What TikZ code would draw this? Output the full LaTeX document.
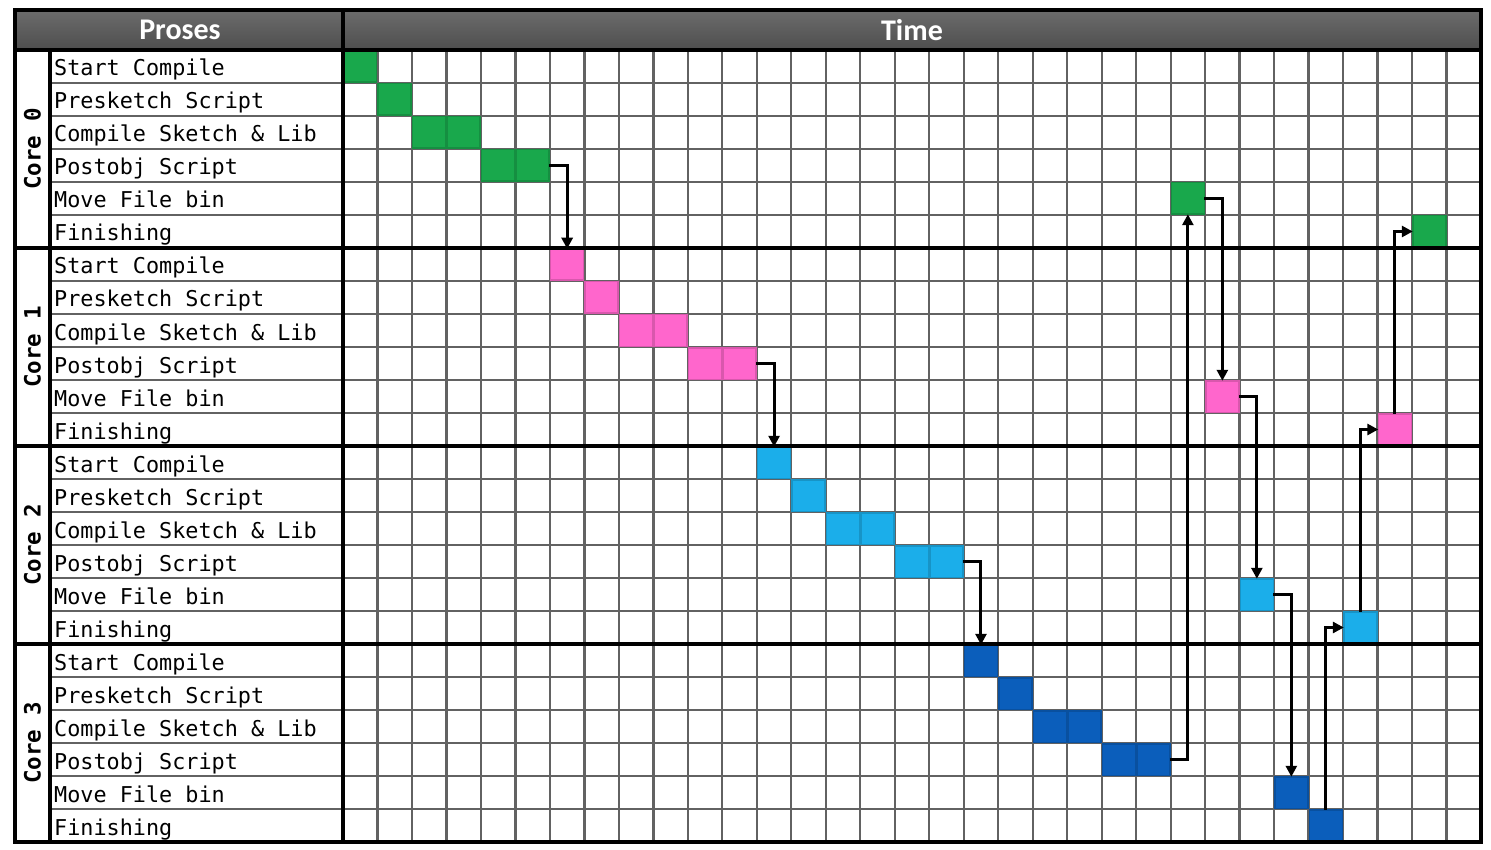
\documentclass[tikz,border=0pt]{standalone}
\usepackage{fontspec}
\newfontfamily\monof{DejaVu Sans Mono}
\newfontfamily\headf{Carlito}
\usetikzlibrary{arrows.meta}
\definecolor{gridgray}{HTML}{626262}
\definecolor{hdtop}{HTML}{6C6C6C}
\definecolor{hdbot}{HTML}{4E4E4E}
\definecolor{cgreen}{HTML}{19A84C}
\definecolor{cpink}{HTML}{FF66CC}
\definecolor{clblue}{HTML}{1BAEEA}
\definecolor{cdblue}{HTML}{0B5EBB}
\tikzset{
  gridline/.style={draw=gridgray, line width=2.3pt},
  thickline/.style={draw=black, line width=4.2pt},
  taskcell/.style={fill=#1, draw=#1!85!black, line width=1.5pt,
    minimum width=33pt, minimum height=31.5pt, inner sep=0pt, outer sep=0pt},
  flow/.style={draw=black, line width=3pt, -{Triangle[length=11pt,width=11pt]}},
  itemtxt/.style={anchor=base west, inner sep=0pt, font=\monof\fontsize{21.8}{24}\selectfont},
  corelabel/.style={inner sep=0pt, rotate=90, font=\monof\bfseries\fontsize{22.5}{24}\selectfont},
  headtxt/.style={inner sep=0pt, text=white, font=\headf\bfseries\fontsize{30}{32}\selectfont}
}
\begin{document}
\begin{tikzpicture}[x=1pt,y=-1pt]
\useasboundingbox (0,0) rectangle (1491,850);
\fill[white] (0,0) rectangle (1491,850);
% header
\shade[top color=hdtop, bottom color=hdbot] (15,10) rectangle (1481,50);
\node[headtxt] (hproses) at (180,30) {Proses};
\node[headtxt] (htime) at (912,30) {Time};
% grid
\foreach \i in {1,...,32} {
  \draw[gridline] ({343+\i*34.4848},50) -- ({343+\i*34.4848},842);
}
\foreach \j in {1,...,23} {
  \draw[gridline] (50,{50+\j*33}) -- (1481,{50+\j*33});
}
% task cells
\foreach \k/\col in {0/cgreen,1/cpink,2/clblue,3/cdblue} {
  \pgfmathtruncatemacro\R{6*\k}
  \pgfmathtruncatemacro\C{6*\k}
  \pgfmathtruncatemacro\M{24+\k}
  \pgfmathtruncatemacro\F{31-\k}
  \node[taskcell=\col] (c\k-s)  at ({343+(\C+0.5)*34.4848},{50+(\R+0.5)*33}) {};
  \node[taskcell=\col] (c\k-p)  at ({343+(\C+1.5)*34.4848},{50+(\R+1.5)*33}) {};
  \node[taskcell=\col] (c\k-k1) at ({343+(\C+2.5)*34.4848},{50+(\R+2.5)*33}) {};
  \node[taskcell=\col] (c\k-k2) at ({343+(\C+3.5)*34.4848},{50+(\R+2.5)*33}) {};
  \node[taskcell=\col] (c\k-o1) at ({343+(\C+4.5)*34.4848},{50+(\R+3.5)*33}) {};
  \node[taskcell=\col] (c\k-o2) at ({343+(\C+5.5)*34.4848},{50+(\R+3.5)*33}) {};
  \node[taskcell=\col] (c\k-m)  at ({343+(\M+0.5)*34.4848},{50+(\R+4.5)*33}) {};
  \node[taskcell=\col] (c\k-f)  at ({343+(\F+0.5)*34.4848},{50+(\R+5.5)*33}) {};
}
% row labels
\foreach \k in {0,...,3} {
  \foreach \t [count=\i from 0] in {Start Compile,Presketch Script,Compile Sketch \& Lib,Postobj Script,Move File bin,Finishing} {
    \node[itemtxt] (t\k-\i) at (54,{50+(6*\k+\i)*33+26}) {\t};
  }
  \node[corelabel] (core\k) at (32.5,{149+198*\k}) {Core \k};
}
% thick lines
\draw[thickline] (15,50) -- (1481,50);
\foreach \y in {248,446,644} { \draw[thickline] (15,\y) -- (1481,\y); }
\draw[thickline] (343,10) -- (343,842);
\draw[thickline] (50,50) -- (50,842);
\draw[thickline] (15,10) rectangle (1481,842);
% arrows
\draw[flow] (c0-o2.east) -| (c1-s.north);
\draw[flow] (c1-o2.east) -| (c2-s.north);
\draw[flow] (c2-o2.east) -| (c3-s.north);
\draw[flow] (c3-o2.east) -| (c0-m.south);
\draw[flow] (c0-m.east) -| (c1-m.north);
\draw[flow] (c1-m.east) -| (c2-m.north);
\draw[flow] (c2-m.east) -| (c3-m.north);
\draw[flow] (c3-f.north) |- (c2-f.west);
\draw[flow] (c2-f.north) |- (c1-f.west);
\draw[flow] (c1-f.north) |- (c0-f.west);
\end{tikzpicture}
\end{document}
